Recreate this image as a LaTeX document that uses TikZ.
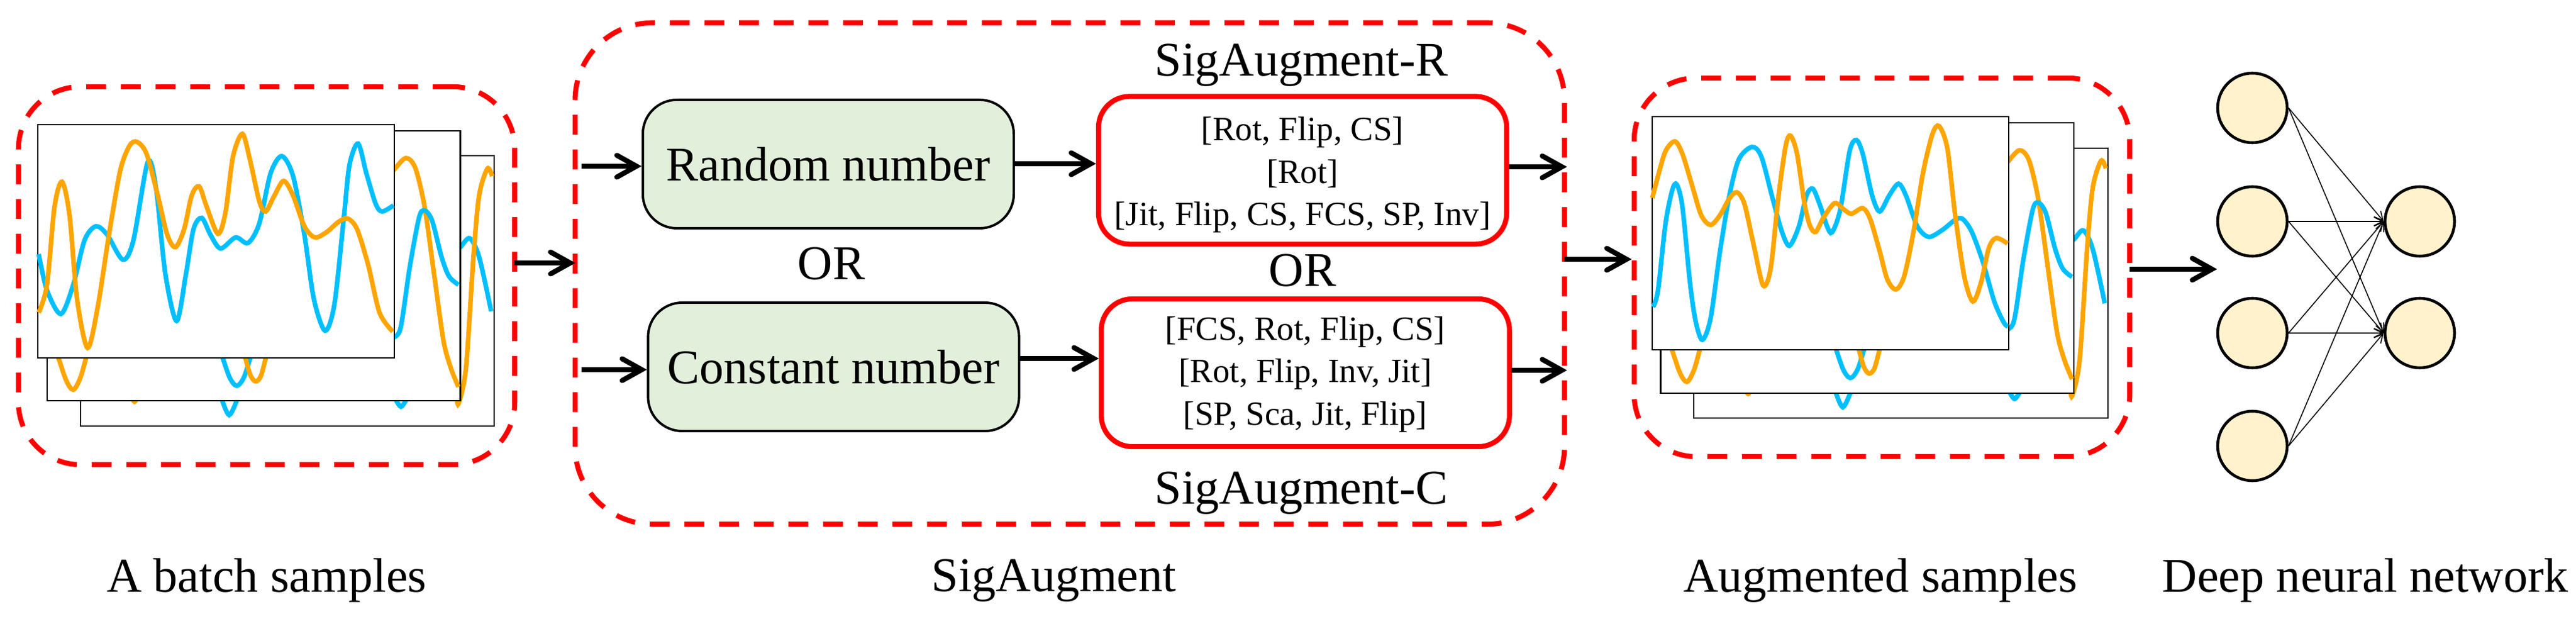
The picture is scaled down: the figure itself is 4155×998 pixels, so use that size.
\documentclass[tikz,border=0pt]{standalone}
\usepackage{fontspec}
\setmainfont{Liberation Serif}
\usepackage{xcolor}
\usetikzlibrary{arrows.meta}

\definecolor{sigblue}{HTML}{00BFFF}
\definecolor{sigorange}{HTML}{FFA500}
\definecolor{boxgreen}{HTML}{E2EFDA}
\definecolor{neuronfill}{HTML}{FFF2CC}

\tikzset{
    dashbox/.style={draw=red, line width=2.3pt, dash pattern=on 9.1pt off 6.8pt, inner sep=0pt},
    greenbox/.style={draw=black, fill=boxgreen, line width=1.1pt, rounded corners=0.55cm, inner sep=0pt,
        minimum width=5.98cm, minimum height=2.07cm, font=\fontsize{22.2}{26}\selectfont},
    redbox/.style={draw=red, line width=2.3pt, rounded corners=0.5cm, inner sep=0pt,
        minimum width=6.58cm, minimum height=2.38cm, align=center, font=\fontsize{15.6}{19.5}\selectfont},
    labeltext/.style={inner sep=0pt, font=\fontsize{22.2}{26}\selectfont},
    neuron/.style={draw=black, fill=neuronfill, circle, line width=1.3pt, inner sep=0pt, minimum size=1.12cm},
    thickarrow/.style={line width=2.3pt, -{Straight Barb[length=9pt,width=10pt,line cap=round]}},
    thinarrow/.style={line width=0.45pt, -{Straight Barb[length=4pt,width=4pt]}},
    panel/.style={draw=black, fill=white, line width=0.6pt},
    bluecurve/.style={draw=sigblue, line width=2.1pt},
    orangecurve/.style={draw=sigorange, line width=2.1pt},
}

% back and middle sheets, same in both stacks
\newcommand{\sheetstack}{
    \draw[panel] (214,337) rectangle (1315,1307);
    \draw[bluecurve] plot[smooth] coordinates {(1200,690) (1225,665) (1250,633) (1275,700) (1307,895)};
    \draw[orangecurve] plot[smooth] coordinates {(1215,1190) (1220,1228) (1240,1100) (1260,700) (1275,480) (1297,383) (1310,410)};
    \draw[orangecurve] plot[smooth] coordinates {(345,1190) (358,1220) (370,1190)};
    \draw[bluecurve] plot[smooth] coordinates {(585,1190) (610,1268) (637,1190)};
    \draw[bluecurve] plot[smooth] coordinates {(1045,1190) (1067,1238) (1090,1190)};

    \draw[panel] (125,247) rectangle (1225,1217);
    \draw[orangecurve] plot[smooth] coordinates {(1030,420) (1050,385) (1080,345) (1105,380) (1130,520) (1155,760) (1180,1000) (1200,1100) (1220,1167)};
    \draw[bluecurve] plot[smooth] coordinates {(1040,990) (1065,960) (1090,740) (1115,560) (1130,533) (1150,570) (1175,700) (1195,770) (1220,800)};
    \draw[orangecurve] plot[smooth] coordinates {(148,1030) (175,1140) (195,1177) (215,1130) (235,1030)};
    \draw[bluecurve] plot[smooth] coordinates {(585,1030) (610,1130) (630,1163) (650,1130) (673,1030)};
    \draw[orangecurve] plot[smooth] coordinates {(647,1030) (665,1120) (680,1147) (695,1125) (713,1030)};
}

\begin{document}
\begin{tikzpicture}[x=0.01cm, y=-0.01cm]
    \useasboundingbox (0,0) rectangle (4155,998);

    % Dashed groups
    \node[dashbox, rounded corners=1cm, minimum width=8cm, minimum height=6.09cm] (batchbox) at (430,444.5) {};
    \node[dashbox, rounded corners=1.25cm, minimum width=15.95cm, minimum height=8.08cm] (sigbox) at (1725.5,441) {};
    \node[dashbox, rounded corners=1cm, minimum width=7.99cm, minimum height=6.1cm] (augbox) at (3035.5,431) {};

    % Left stack
    \begin{scope}[shift={(0,100)}, x=0.00606cm, y=-0.004484cm]
        \sheetstack
        \draw[panel] (100,225) rectangle (1050,1062);
        \draw[bluecurve] plot[smooth] coordinates {(103,690) (125,820) (162,905) (195,800) (225,640) (255,590) (285,620) (327,710) (355,640) (393,360) (415,450) (440,760) (470,930) (495,760) (515,600) (537,560) (560,620) (587,670) (627,630) (660,650) (690,580) (720,400) (750,338) (780,410) (810,620) (835,850) (865,965) (890,870) (915,560) (930,370) (953,293) (975,400) (1000,510) (1017,537) (1047,515)};
        \draw[orangecurve] plot[smooth] coordinates {(103,900) (125,800) (145,520) (165,430) (185,550) (205,850) (233,1027) (260,880) (290,620) (320,390) (345,300) (365,287) (390,330) (420,480) (445,620) (467,665) (490,600) (510,480) (530,447) (550,520) (580,617) (600,540) (620,340) (645,258) (665,350) (690,500) (707,537) (730,480) (755,427) (780,480) (810,590) (838,630) (870,610) (900,575) (925,562) (950,600) (980,730) (1010,900) (1045,968)};
    \end{scope}

    % Right stack
    \begin{scope}[shift={(2602.7,87.4)}, x=0.00606cm, y=-0.004484cm]
        \sheetstack
    \end{scope}
    \begin{scope}[shift={(2550,100)}, x=0.00606cm, y=-0.004484cm]
        \draw[panel] (189,196) rectangle (1138,1034);
        \draw[bluecurve] plot[smooth] coordinates {(192,880) (205,820) (225,580) (243,460) (255,440) (270,520) (290,790) (305,930) (323,998) (345,920) (370,680) (395,480) (420,350) (455,305) (480,340) (510,490) (535,610) (555,660) (580,590) (600,480) (617,455) (635,510) (655,590) (668,612) (690,530) (715,320) (733,280) (750,330) (775,480) (795,537) (820,480) (845,437) (865,480) (895,590) (925,628) (960,605) (995,568) (1015,563) (1040,610) (1070,720) (1100,860) (1125,935) (1136,950)};
        \draw[orangecurve] plot[smooth] coordinates {(190,488) (205,410) (225,320) (250,285) (270,330) (295,440) (320,550) (345,585) (370,550) (395,490) (415,468) (435,510) (460,660) (485,803) (505,740) (525,490) (545,300) (558,265) (575,330) (595,510) (610,590) (625,610) (645,560) (675,507) (700,530) (720,545) (750,525) (770,565) (795,680) (815,780) (838,817) (860,770) (885,610) (910,400) (935,260) (953,230) (975,310) (995,540) (1020,770) (1043,860) (1065,790) (1085,670) (1105,632) (1135,652)};
    \end{scope}

    % Boxes
    \node[greenbox] (random) at (1336,264.5) {Random number};
    \node[greenbox] (constant) at (1344.5,591.5) {Constant number};
    \node[redbox] (redr) at (2101,274.5) {\rule{0pt}{15.2pt}{[Rot, Flip, CS]}\\ {[Rot]}\\ {[Jit, Flip, CS, FCS, SP, Inv]}};
    \node[redbox] (redc) at (2105.5,601) {\rule{0pt}{12.3pt}{[FCS, Rot, Flip, CS]}\\ {[Rot, Flip, Inv, Jit]}\\ {[SP, Sca, Jit, Flip]}};

    % Texts
    \node[labeltext] (sigr) at (2099,105) {SigAugment-R};
    \node[labeltext] (sigc) at (2099,795) {SigAugment-C};
    \node[labeltext] (orleft) at (1341,425) {OR};
    \node[labeltext] (orright) at (2101,436) {OR};
    \node[labeltext] (batchtext) at (430,936) {A batch samples};
    \node[labeltext] (sigtext) at (1700,936) {SigAugment};
    \node[labeltext] (augtext) at (3033,936) {Augmented samples};
    \node[labeltext] (nettext) at (3815,936) {Deep neural network};

    % Network
    \node[neuron] (l1) at (3633,174) {};
    \node[neuron] (l2) at (3633,357) {};
    \node[neuron] (l3) at (3633,537) {};
    \node[neuron] (l4) at (3633,719) {};
    \node[neuron] (r1) at (3903,357) {};
    \node[neuron] (r2) at (3903,537) {};
    \foreach \i in {1,2,3,4} {
        \draw[thinarrow] (l\i.east) -- (r1.west);
        \draw[thinarrow] (l\i.east) -- (r2.west);
    }

    % Arrow ends
    \coordinate (batchout) at (830,424);
    \coordinate (sigleft) at (928,424);
    \coordinate (randin) at (938,268);
    \coordinate (constin) at (938,596);
    \coordinate (randout) at (1636,264);
    \coordinate (constout) at (1643,578);
    \coordinate (redrout) at (2434,269);
    \coordinate (redcout) at (2438,597);
    \coordinate (sigout) at (2523,418);
    \coordinate (augout) at (3435,434);
    \coordinate (netin) at (3576,434);

    % Arrows
    \draw[thickarrow] (batchout) -- (sigleft);
    \draw[thickarrow] (randin) -- (randin -| random.west);
    \draw[thickarrow] (constin) -- (constin -| constant.west);
    \draw[thickarrow] (randout) -- (randout -| redr.west);
    \draw[thickarrow] (constout) -- (constout -| redc.west);
    \draw[thickarrow] (redrout) -- (redrout -| sigbox.east);
    \draw[thickarrow] (redcout) -- (redcout -| sigbox.east);
    \draw[thickarrow] (sigout) -- (sigout -| augbox.west);
    \draw[thickarrow] (augout) -- (netin);
\end{tikzpicture}
\end{document}
